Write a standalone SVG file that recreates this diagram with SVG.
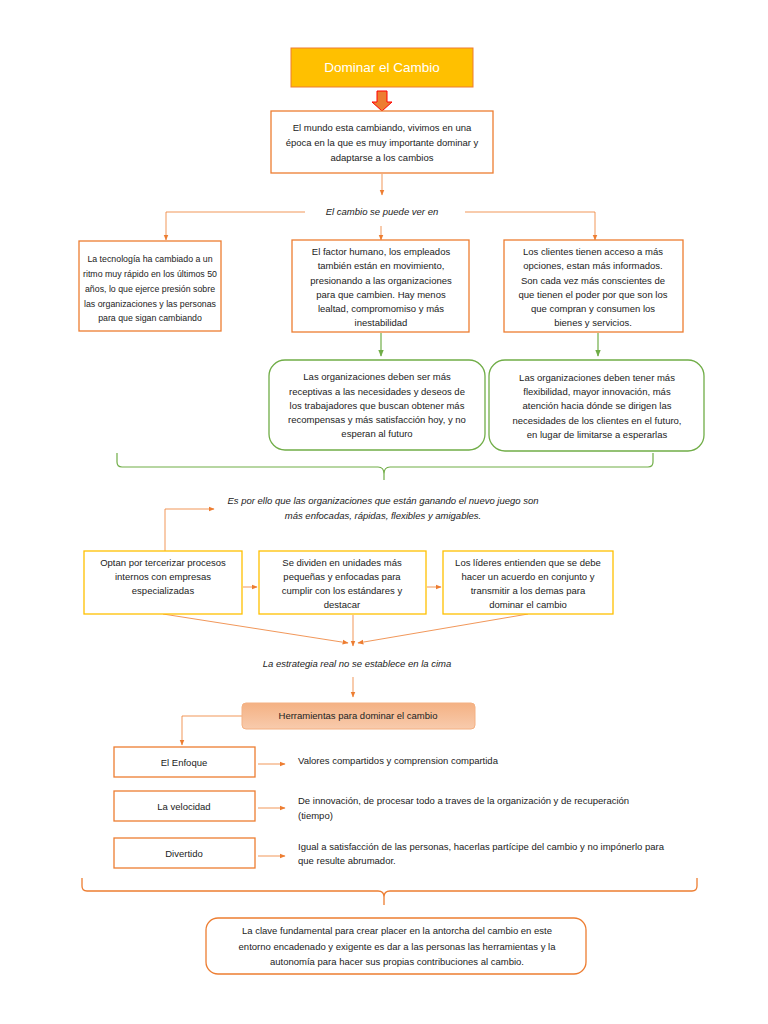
<svg xmlns="http://www.w3.org/2000/svg" width="768" height="1024" viewBox="0 0 768 1024">
<defs>
<marker id="ah" viewBox="0 0 10 10" refX="9" refY="5" markerWidth="6" markerHeight="6" orient="auto-start-reverse"><path d="M0,1 L10,5 L0,9 z" fill="#ED7D31"/></marker>
<marker id="ahg" viewBox="0 0 10 10" refX="9" refY="5" markerWidth="6" markerHeight="6" orient="auto"><path d="M0,1 L10,5 L0,9 z" fill="#70AD47"/></marker>
<linearGradient id="salmon" x1="0" y1="0" x2="0" y2="1"><stop offset="0" stop-color="#F4B183"/><stop offset="1" stop-color="#F8CBAD"/></linearGradient>
</defs>
<style>
text{font-family:"Liberation Sans",Arial,sans-serif;font-size:9.5px;fill:#222;text-anchor:middle}
.it{font-style:italic}
.l{text-anchor:start}
.sm{font-size:8.8px}
.box{fill:#fff;stroke:#ED7D31;stroke-width:1.3}
.ybox{fill:#fff;stroke:#FFC000;stroke-width:1.3}
.gbox{fill:#fff;stroke:#70AD47;stroke-width:1.3}
.c{fill:none;stroke:#ED7D31;stroke-width:1;stroke-opacity:0.8}
.g{fill:none;stroke:#70AD47;stroke-width:1.2}
</style>
<rect width="768" height="1024" fill="#fff"/>

<g id="connectors">
<path d="M382,91 h-5 v11 h-5 l10,9 l10,-9 h-5 v-11 z" fill="#ED7D31" stroke="#FF0000" stroke-width="1"/>
<path class="c" d="M382,174 V195" marker-end="url(#ah)"/>
<path class="c" d="M305,212 H166 V240" marker-end="url(#ah)"/>
<path class="c" d="M465,212 H595 V240" marker-end="url(#ah)"/>
<path class="c" d="M381,226 V240" marker-end="url(#ah)"/>
<path class="g" d="M381,333 V356" marker-end="url(#ahg)"/>
<path class="g" d="M598,333 V356" marker-end="url(#ahg)"/>
<path class="g" d="M117,453 V462 Q117,467 122,467 H378 Q384,467 384,474 V480 M384,480 V474 Q384,467 390,467 H648 Q653,467 653,462 V453"/>
<path class="c" d="M165,551 V509 H214" marker-end="url(#ah)"/>
<path class="c" d="M243,587 H257" marker-end="url(#ah)"/>
<path class="c" d="M427,587 H441" marker-end="url(#ah)"/>
<path class="c" d="M163,614 L348,643" marker-end="url(#ah)"/>
<path class="c" d="M353,615 V646" marker-end="url(#ah)"/>
<path class="c" d="M528,614 L358,643" marker-end="url(#ah)"/>
<path class="c" d="M353,677 V697" marker-end="url(#ah)"/>
<path class="c" d="M242,716 H182 V745" marker-end="url(#ah)"/>
<path class="c" d="M258,764 H285" marker-end="url(#ah)"/>
<path class="c" d="M258,808 H285" marker-end="url(#ah)"/>
<path class="c" d="M258,856 H285" marker-end="url(#ah)"/>
<path fill="none" stroke="#ED7D31" stroke-width="1.3" d="M82,878 V886 Q82,891 87,891 H378 Q384,891 384,897 V905 M384,905 V897 Q384,891 390,891 H692 Q697,891 697,886 V878"/>
</g>

<g id="title">
<rect x="291" y="48" width="182" height="39" fill="#FFC000" stroke="#ED7D31" stroke-width="1"/>
<text x="382" y="72" style="font-size:13.5px;fill:#fff">Dominar el Cambio</text>
</g>

<g id="intro">
<rect class="box" x="271" y="111" width="222" height="62"/>
<text x="382" y="131">El mundo esta cambiando, vivimos en una</text>
<text x="382" y="146">época en la que es muy importante dominar y</text>
<text x="382" y="161">adaptarse a los cambios</text>
</g>

<g id="label1"><text class="it" x="382" y="215">El cambio se puede ver en</text></g>

<g id="tecnologia">
<rect class="box" x="79" y="241" width="142" height="90"/>
<text class="sm" x="150" y="262">La tecnología ha cambiado a un</text>
<text class="sm" x="150" y="277">ritmo muy rápido en los últimos 50</text>
<text class="sm" x="150" y="292">años, lo que ejerce presión sobre</text>
<text class="sm" x="150" y="307">las organizaciones y las personas</text>
<text class="sm" x="150" y="321">para que sigan cambiando</text>
</g>

<g id="humano">
<rect class="box" x="292" y="240" width="177" height="92"/>
<text x="381" y="255">El factor humano, los empleados</text>
<text x="381" y="269">también están en movimiento,</text>
<text x="381" y="284">presionando a las organizaciones</text>
<text x="381" y="298">para que cambien. Hay menos</text>
<text x="381" y="312">lealtad, compromomiso y más</text>
<text x="381" y="326">inestabilidad</text>
</g>

<g id="clientes">
<rect class="box" x="504" y="240" width="179" height="92"/>
<text x="593" y="255">Los clientes tienen acceso a más</text>
<text x="593" y="269">opciones, estan más informados.</text>
<text x="593" y="284">Son cada vez más conscientes de</text>
<text x="593" y="298">que tienen el poder por que son los</text>
<text x="593" y="312">que compran y consumen los</text>
<text x="593" y="326">bienes y servicios.</text>
</g>

<g id="receptivas">
<rect class="gbox" x="269" y="360" width="216" height="90" rx="16"/>
<text x="377" y="380">Las organizaciones deben ser más</text>
<text x="377" y="395">receptivas a las necesidades y deseos de</text>
<text x="377" y="409">los trabajadores que buscan  obtener más</text>
<text x="377" y="423">recompensas y más satisfacción hoy, y no</text>
<text x="377" y="437">esperan al futuro</text>
</g>

<g id="flexibilidad">
<rect class="gbox" x="489" y="360" width="215" height="91" rx="16"/>
<text x="597" y="381">Las organizaciones deben tener más</text>
<text x="597" y="395">flexibilidad, mayor innovación, más</text>
<text x="597" y="409">atención hacia dónde se dirigen las</text>
<text x="597" y="424">necesidades de los clientes en el futuro,</text>
<text x="597" y="438">en lugar de limitarse a esperarlas</text>
</g>

<g id="label2">
<text class="it" x="383" y="504">Es por ello que las organizaciones que están ganando el nuevo juego son</text>
<text class="it" x="383" y="519">más enfocadas, rápidas, flexibles y amigables.</text>
</g>

<g id="tercerizar">
<rect class="ybox" x="84" y="551" width="158" height="63"/>
<text x="163" y="566">Optan por tercerizar procesos</text>
<text x="163" y="580">internos con empresas</text>
<text x="163" y="594">especializadas</text>
</g>

<g id="unidades">
<rect class="ybox" x="259" y="551" width="167" height="63"/>
<text x="342" y="566">Se dividen en unidades más</text>
<text x="342" y="580">pequeñas y enfocadas para</text>
<text x="342" y="594">cumplir con los estándares y</text>
<text x="342" y="608">destacar</text>
</g>

<g id="lideres">
<rect class="ybox" x="443" y="551" width="170" height="63"/>
<text x="528" y="566">Los líderes entienden que se debe</text>
<text x="528" y="580">hacer un acuerdo en conjunto y</text>
<text x="528" y="594">transmitir a los demas para</text>
<text x="528" y="608">dominar el cambio</text>
</g>

<g id="label3"><text class="it" x="357" y="667">La estrategia real no se establece en la cima</text></g>

<g id="herramientas">
<rect x="242" y="703" width="233" height="26" rx="4" fill="url(#salmon)" stroke="#F4B183" stroke-width="1"/>
<text x="358" y="719">Herramientas para dominar el cambio</text>
</g>

<g id="enfoque">
<rect class="box" x="114" y="747" width="141" height="30"/>
<text x="184" y="766">El Enfoque</text>
</g>
<g id="velocidad">
<rect class="box" x="114" y="791" width="141" height="30"/>
<text x="184" y="810">La velocidad</text>
</g>
<g id="divertido">
<rect class="box" x="114" y="838" width="141" height="30"/>
<text x="184" y="857">Divertido</text>
</g>

<g id="desc">
<text class="l" x="298" y="764">Valores compartidos y comprension compartida</text>
<text class="l" x="298" y="804">De innovación, de procesar todo a traves de la organización y de recuperación</text>
<text class="l" x="298" y="819">(tiempo)</text>
<text class="l" x="298" y="850">Igual a satisfacción de las personas, hacerlas partícipe del cambio y no impónerlo para</text>
<text class="l" x="298" y="864">que resulte abrumador.</text>
</g>

<g id="clave">
<rect class="box" x="206" y="918" width="380" height="56" rx="12"/>
<text x="397" y="934">La clave fundamental para crear placer en la antorcha del cambio en este</text>
<text x="397" y="950">entorno encadenado y exigente es dar a las personas las herramientas y la</text>
<text x="397" y="965">autonomía para hacer sus propias contribuciones al cambio.</text>
</g>
</svg>
